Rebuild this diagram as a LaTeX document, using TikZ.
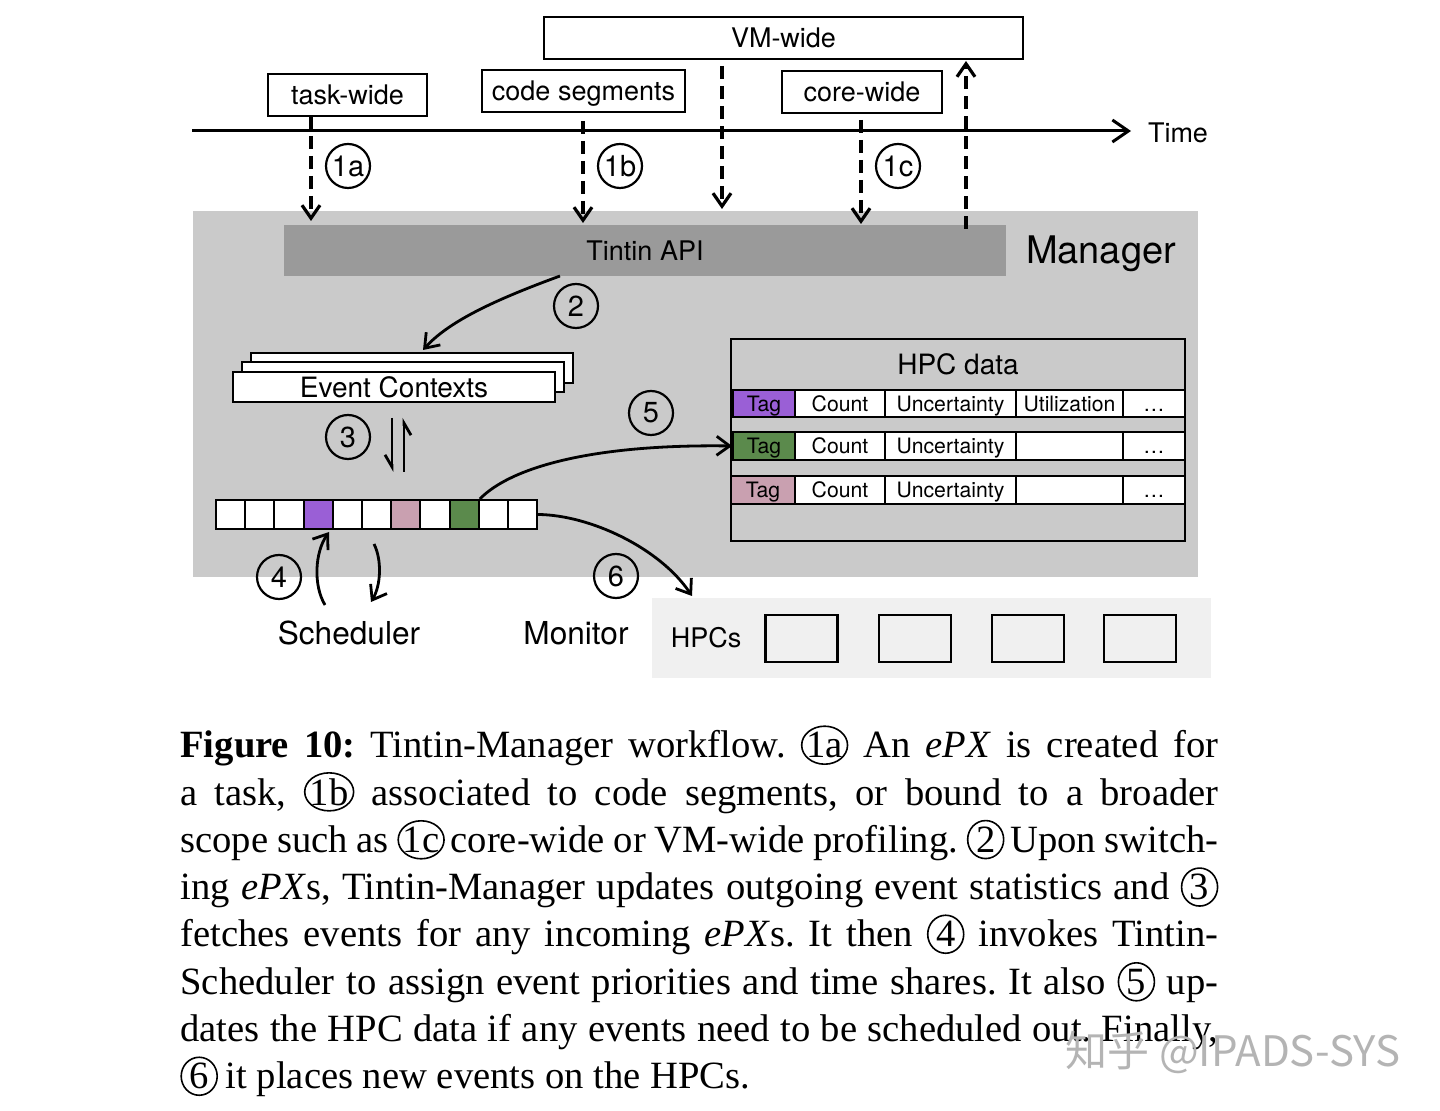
\documentclass[tikz,border=0pt]{standalone}
\usepackage{fontspec}
\setmainfont{Liberation Serif}
\setsansfont{TeX Gyre Heros}
\newfontfamily\cjkfont{Noto Sans CJK SC}
\usetikzlibrary{arrows.meta,shapes.geometric}
\definecolor{mgrgray}{HTML}{CACACA}
\definecolor{apigray}{HTML}{9A9A9A}
\definecolor{hpcgray}{HTML}{F0F0F0}
\definecolor{purp}{HTML}{9A5FD6}
\definecolor{pinkc}{HTML}{C9A0B0}
\definecolor{greenc}{HTML}{5B8A4C}
\definecolor{wmgray}{HTML}{B4B4B4}
\newcommand{\cn}[1]{\tikz[baseline=(cnX.base)]\node[draw=black,ellipse,line width=0.8pt,inner sep=-1pt,minimum width=18pt,minimum height=19pt,text width={},align=center,anchor=center] (cnX) {#1};}
\begin{document}
\begin{tikzpicture}[x=0.5pt,y=-0.5pt,
  sf/.style={font=\sffamily\fontsize{13.5}{16}\selectfont,text height=10pt,text depth=0.2pt},
  box/.style={draw=black,line width=1pt,fill=white,inner sep=0pt},
  num/.style={draw=black,circle,line width=1.1pt,minimum size=22pt,inner sep=0pt,font=\sffamily\fontsize{14.5}{16}\selectfont},
  dasharr/.style={line width=1.6pt,dash pattern=on 6.5pt off 3.5pt,-{Straight Barb[length=6.5pt,width=9pt]}},
  arr/.style={line width=1.4pt,-{Straight Barb[length=6.5pt,width=9.5pt]}},
  cell/.style={draw=black,line width=1pt,fill=white,inner sep=0pt},
  tcell/.style={draw=black,line width=1pt,fill=white,inner sep=0pt,font=\sffamily\fontsize{10.6}{12}\selectfont,text height=8pt,text depth=0pt},
  hpcbox/.style={draw=black,line width=1.3pt,fill=hpcgray,inner sep=0pt,minimum height=23.5pt,minimum width=36pt}
]
\useasboundingbox (0,0) rectangle (1440,1111);
\fill[white] (0,0) rectangle (1440,1111);

% Manager area
\node[fill=mgrgray,inner sep=0pt,minimum width=502.5pt,minimum height=183pt] (mgr) at (695.5,394) {};
\node[fill=apigray,inner sep=0pt,minimum width=361pt,minimum height=25.5pt,sf] (api) at (645,250.5) {Tintin API};
\node[font=\sffamily\fontsize{19}{22}\selectfont] (mgrlbl) at (1101,254) {Manager};

% timeline
\coordinate (t0) at (192,131);
\coordinate (t1) at (1131,131);
\draw[line width=1.5pt,-{Straight Barb[length=8pt,width=11pt]}] (t0) -- (t1);
\node[sf] (time) at (1178,133) {Time};

% scope boxes
\node[box,sf,minimum width=79.5pt,minimum height=21pt] (task) at (347.5,95) {task-wide};
\node[box,sf,minimum width=101.5pt,minimum height=21pt] (code) at (583.5,91) {code segments};
\node[box,sf,minimum width=239.5pt,minimum height=21pt] (vm) at (783.5,38) {VM-wide};
\node[box,sf,minimum width=80pt,minimum height=21pt] (core) at (862,92) {core-wide};

% dashed arrows
\coordinate (d1s) at (311,116); \coordinate (d1e) at (311,221);
\coordinate (d2s) at (583,121); \coordinate (d2e) at (583,223);
\coordinate (d3s) at (722,66);  \coordinate (d3e) at (722,209);
\coordinate (d4s) at (861,120); \coordinate (d4e) at (861,224);
\coordinate (d5s) at (966,229); \coordinate (d5e) at (966,61);
\draw[dasharr] (d1s) -- (d1e);
\draw[dasharr] (d2s) -- (d2e);
\draw[dasharr] (d3s) -- (d3e);
\draw[dasharr] (d4s) -- (d4e);
\draw[dasharr] (d5s) -- (d5e);

\node[num] (n1a) at (348,166) {1a};
\node[num] (n1b) at (620,166) {1b};
\node[num] (n1c) at (898,166) {1c};

% event contexts
\node[box,minimum width=161pt,minimum height=15pt] (ec3) at (412,368) {};
\node[box,minimum width=161pt,minimum height=15pt] (ec2) at (403,377) {};
\node[box,minimum width=161pt,minimum height=15pt,font=\sffamily\fontsize{14}{16}\selectfont,text height=10.3pt,text depth=0.2pt] (ec1) at (394,387) {Event Contexts};

\coordinate (a2s) at (560,276);
\coordinate (a2e) at (423,350);
\draw[arr] (a2s) .. controls (500,298) and (450,320) .. (a2e);
\node[num] (n2) at (576,306) {2};

% step 3
\node[num] (n3) at (348,437) {3};
\coordinate (h1s) at (392,418); \coordinate (h1e) at (392,472);
\coordinate (h2s) at (404,472); \coordinate (h2e) at (404,418);
\draw[line width=1.4pt,-{Straight Barb[right,length=6pt,width=7pt]}] (h1s) -- (h1e);
\draw[line width=1.4pt,-{Straight Barb[right,length=6pt,width=7pt]}] (h2s) -- (h2e);

% queue
\foreach \i/\c in {0/white,1/white,2/white,3/purp,4/white,5/white,6/pinkc,7/white,8/greenc,9/white,10/white}
  \node[cell,fill=\c,minimum width=14.6pt,minimum height=14.5pt] (q\i) at ({230.6+\i*29.2},514.5) {};

% HPC data table
\node[draw=black,line width=1.1pt,fill=mgrgray,inner sep=0pt,minimum width=227pt,minimum height=101pt] (hpcd) at (958,440) {};
\node[font=\sffamily\fontsize{14}{16}\selectfont] (hpcdlbl) at (958,364) {HPC data};

\node[tcell,fill=purp,minimum width=31pt,minimum height=13.5pt] (tag1) at (764,403.5) {Tag};
\node[tcell,minimum width=45pt,minimum height=13.5pt] (cnt1) at (840,403.5) {Count};
\node[tcell,minimum width=65.5pt,minimum height=13.5pt] (unc1) at (950.5,403.5) {Uncertainty};
\node[tcell,minimum width=53.5pt,minimum height=13.5pt] (utl1) at (1069.5,403.5) {Utilization};
\node[tcell,minimum width=31pt,minimum height=13.5pt] (dot1) at (1154,403.5) {\ldots};

\node[tcell,fill=greenc,minimum width=31pt,minimum height=14pt] (tag2) at (764,446) {Tag};
\node[tcell,minimum width=45pt,minimum height=14pt] (cnt2) at (840,446) {Count};
\node[tcell,minimum width=65.5pt,minimum height=14pt] (unc2) at (950.5,446) {Uncertainty};
\node[tcell,minimum width=53.5pt,minimum height=14pt] (utl2) at (1069.5,446) {};
\node[tcell,minimum width=31pt,minimum height=14pt] (dot2) at (1154,446) {\ldots};

\node[tcell,fill=pinkc,minimum width=32pt,minimum height=14pt] (tag3) at (763,490) {Tag};
\node[tcell,minimum width=45pt,minimum height=14pt] (cnt3) at (840,490) {Count};
\node[tcell,minimum width=65.5pt,minimum height=14pt] (unc3) at (950.5,490) {Uncertainty};
\node[tcell,minimum width=53.5pt,minimum height=14pt] (utl3) at (1069.5,490) {};
\node[tcell,minimum width=31pt,minimum height=14pt] (dot3) at (1154,490) {\ldots};

% step 5
\draw[arr] (q8.north east) .. controls (510,468) and (590,444) .. (tag2.west);
\node[num] (n5) at (651,413) {5};

% HPCs panel
\node[fill=hpcgray,inner sep=0pt,minimum width=279.5pt,minimum height=40pt] (hpcs) at (931.5,638) {};
\node[sf] (hpcslbl) at (706,638) {HPCs};
\node[hpcbox] (c1) at (801.5,638.5) {};
\node[hpcbox] (c2) at (915,638.5) {};
\node[hpcbox] (c3) at (1028,638.5) {};
\node[hpcbox] (c4) at (1140,638.5) {};

% step 6
\coordinate (a6e) at (692,596);
\draw[arr] (q10.east) .. controls (590,515) and (660,548) .. (a6e);
\node[num] (n6) at (616,576) {6};

% step 4
\coordinate (a4s) at (325,605); \coordinate (a4e) at (329,532);
\coordinate (b4s) at (374,544); \coordinate (b4e) at (371,602);
\draw[arr] (a4s) .. controls (313,585) and (315,552) .. (a4e);
\draw[arr] (b4s) .. controls (382,560) and (381,585) .. (b4e);
\node[num] (n4) at (279,577) {4};

\node[font=\sffamily\fontsize{15.8}{18}\selectfont] (sched) at (349,633) {Scheduler};
\node[font=\sffamily\fontsize{15.8}{18}\selectfont] (mon) at (576,633) {Monitor};

% caption
\node[anchor=north west,text width=519pt,align=justify,inner sep=0pt,font=\fontsize{19.3}{23.65}\selectfont] (cap) at (180,725) {\frenchspacing\emergencystretch=3em%
\textbf{Figure 10:} Tintin-Manager workflow. \cn{1a} An \emph{ePX} is created for\linebreak
a task, \cn{1b} associated to code segments, or bound to a broader\linebreak
scope such as \cn{1c}\hspace{0.15em}core-wide or VM-wide profiling. \cn{2}\hspace{0.15em}Upon switch-\linebreak
ing \emph{ePX}s, Tintin-Manager updates outgoing event statistics and \cn{3}\linebreak
fetches events for any incoming \emph{ePX}s. It then \cn{4} invokes Tintin-\linebreak
Scheduler to assign event priorities and time shares. It also \cn{5} up-\linebreak
dates the HPC data if any events need to be scheduled out. Finally,\linebreak
\cn{6}\hspace{0.2em}it places new events on the HPCs.};

\node[font=\cjkfont\fontsize{21}{24}\selectfont,text=wmgray] (wm) at (1233,1052) {知乎 @IPADS-SYS};
\end{tikzpicture}
\end{document}
